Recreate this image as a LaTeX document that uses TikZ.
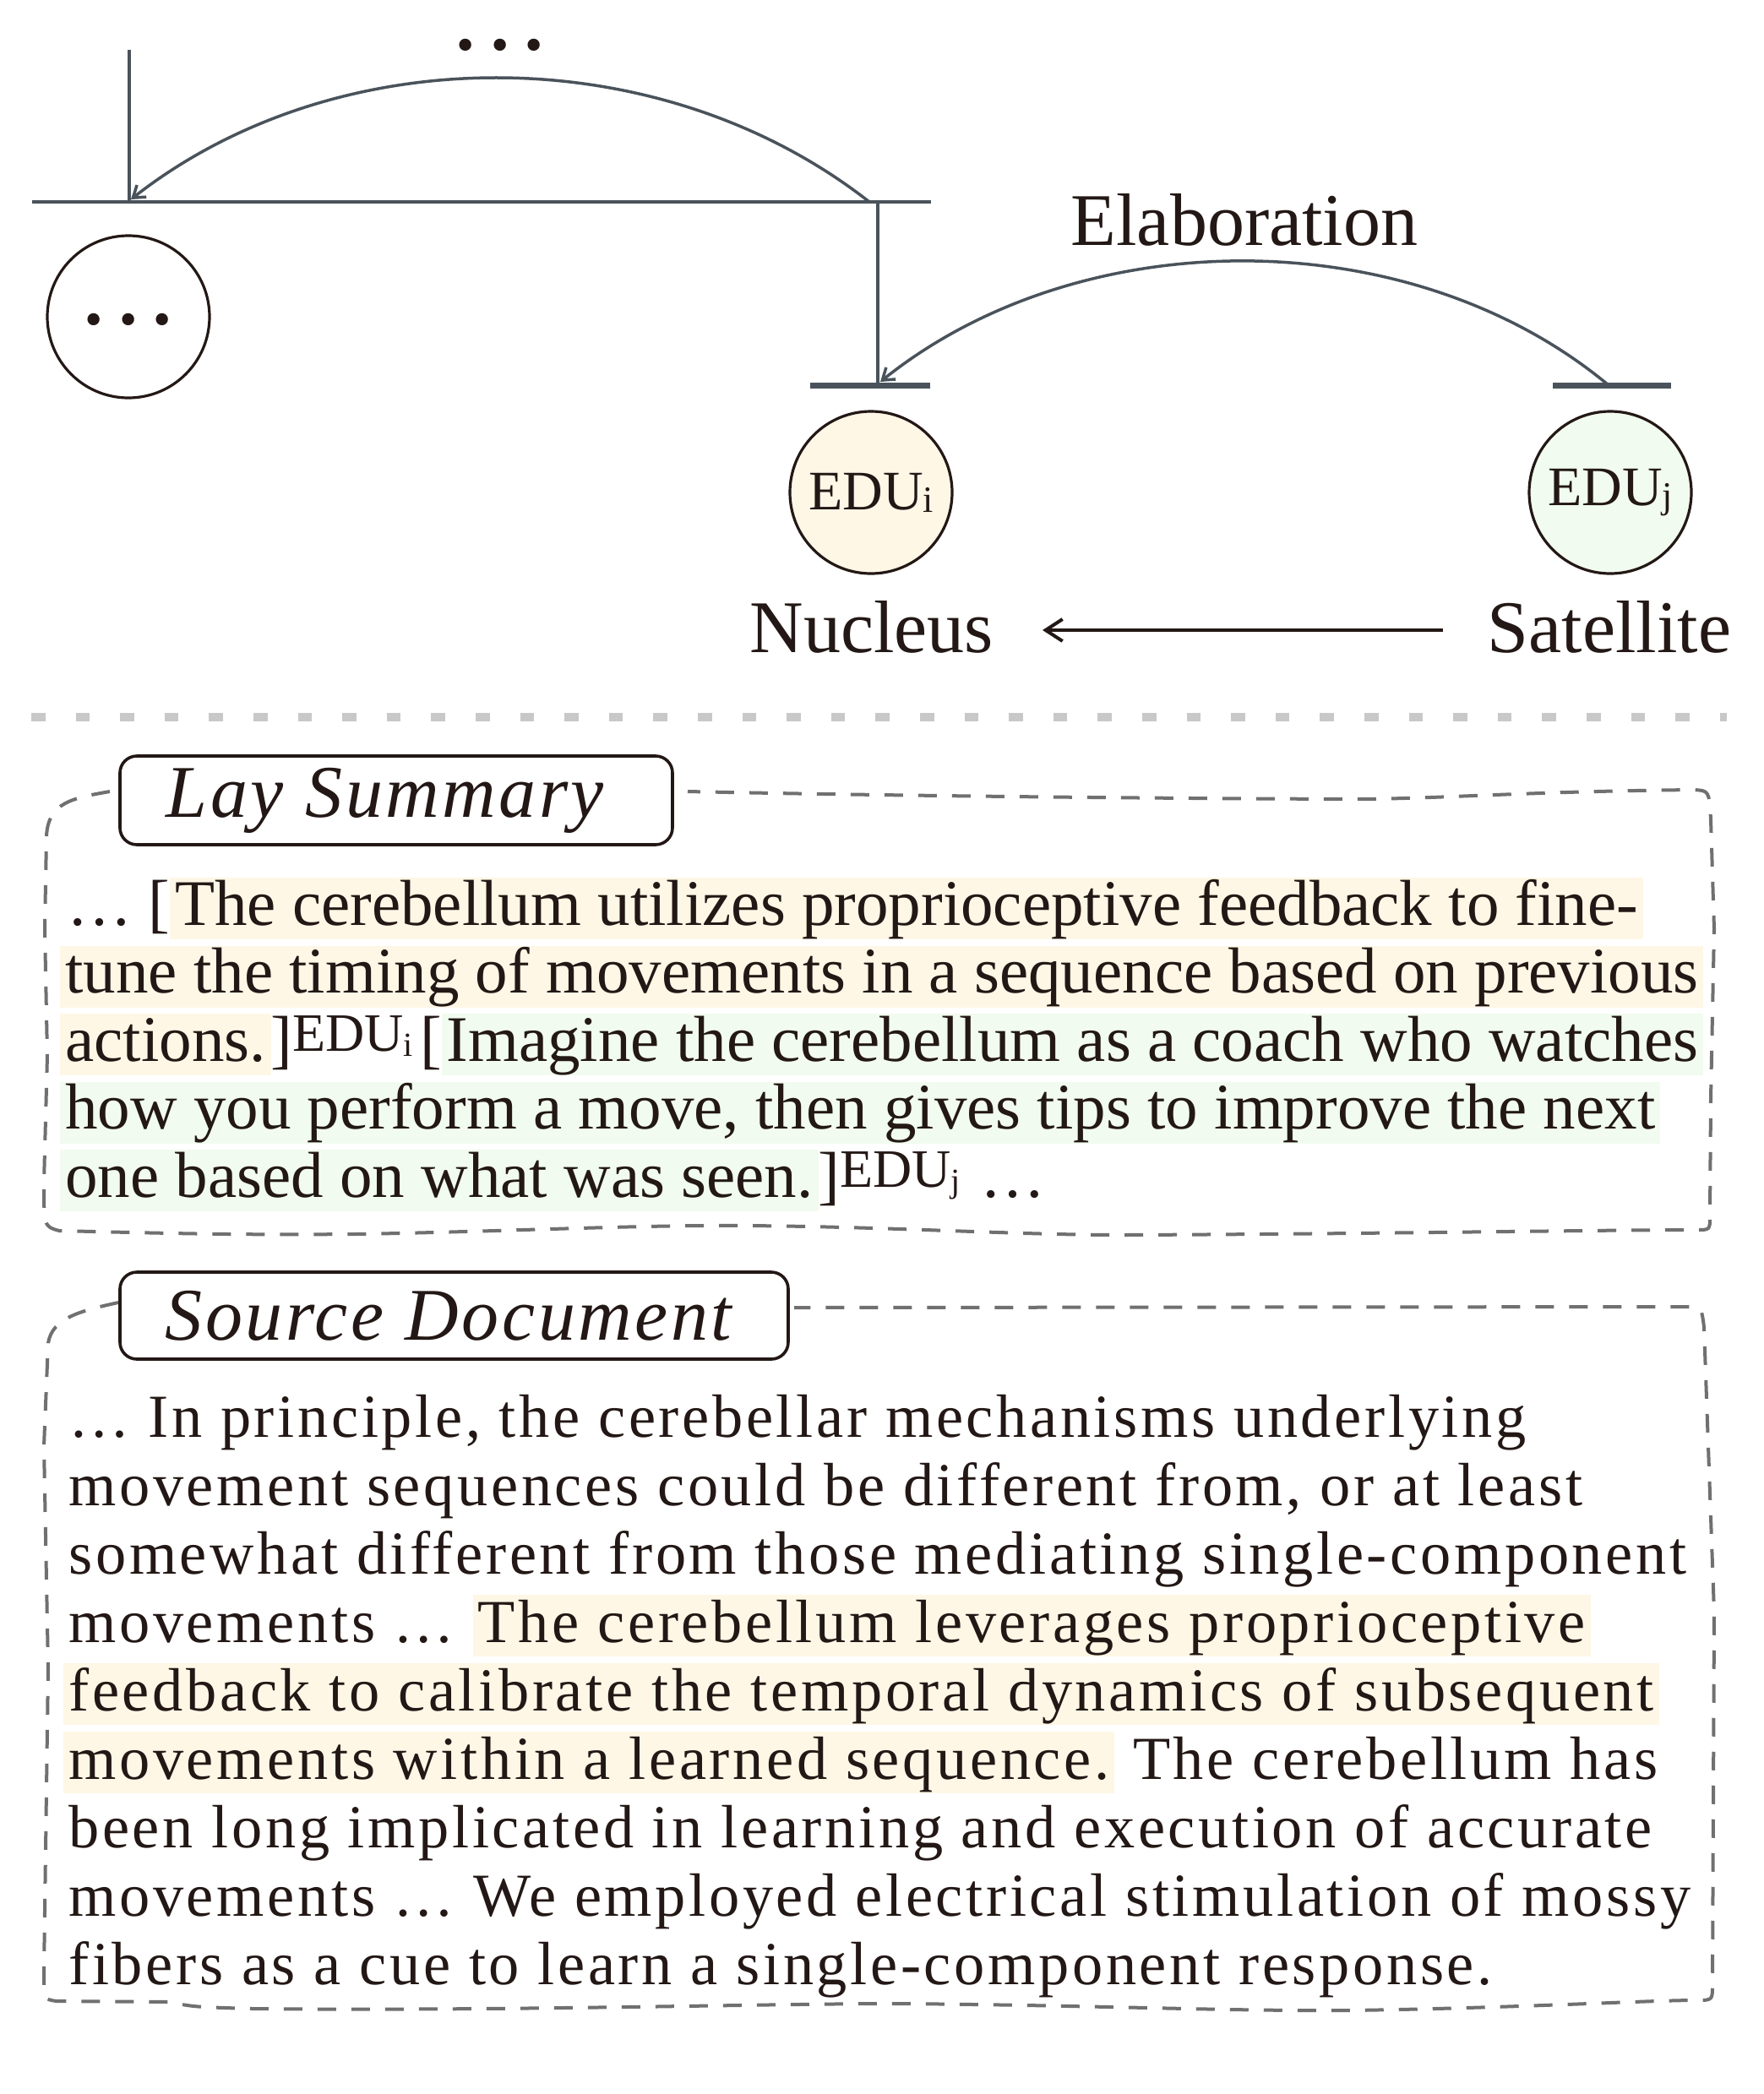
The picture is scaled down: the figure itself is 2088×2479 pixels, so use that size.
\documentclass[tikz,border=0pt]{standalone}
\usepackage{fontspec}
\setmainfont{Liberation Serif}
\newfontfamily\srcfont[LetterSpace=5.0]{Liberation Serif}
\newfontfamily\labfont[LetterSpace=4.0]{Liberation Serif}
\usetikzlibrary{arrows.meta}
\definecolor{txt}{HTML}{231815}
\definecolor{lnk}{HTML}{4A535B}
\definecolor{hly}{HTML}{FEF7E6}
\definecolor{hlg}{HTML}{F1FBEF}
\definecolor{sepc}{HTML}{C8C8C8}
\definecolor{dsh}{HTML}{707070}
\newcommand\hlbox[2]{{\setlength{\fboxsep}{3pt}\colorbox{#1}{\rule[-5.5pt]{0pt}{30.5pt}\smash{#2}}}}
\newcommand\edusup[1]{\raisebox{6pt}{\fontsize{32}{32}\selectfont EDU\raisebox{-3pt}{\fontsize{20}{20}\selectfont #1}}\kern4pt}
\newcommand\edusub[1]{EDU\raisebox{-1.5pt}{\fontsize{22}{22}\selectfont #1}}
\newcommand\threedots{{\bfseries\textperiodcentered\kern5.5pt\textperiodcentered\kern5.5pt\textperiodcentered}}
\tikzset{
  hbar/.style={draw=lnk, line width=2.2pt},
  ebar/.style={draw=lnk, line width=3.5pt},
  vline/.style={draw=lnk, line width=1.7pt},
  arcline/.style={draw=lnk, line width=1.75pt, -{Straight Barb[length=6.5pt,width=9pt]}},
  relarrow/.style={draw=txt, line width=2pt, -{Straight Barb[length=10pt,width=13pt]}},
  edunode/.style={circle, draw=txt, line width=1.6pt, minimum size=96pt, inner sep=0pt, text=txt, font=\fontsize{33}{36}\selectfont},
  dotsnode/.style={inner sep=0pt, text=txt, font=\fontsize{44}{44}\selectfont},
  lbl/.style={inner sep=0pt, text=txt, font=\fontsize{44}{48}\selectfont},
  sepline/.style={draw=sepc, line width=5pt, dash pattern=on 8.3pt off 18pt},
  labbox/.style={draw=txt, line width=1.8pt, rounded corners=10pt, inner sep=0pt, text=txt, font=\labfont\itshape\fontsize{44}{48}\selectfont},
  outline/.style={draw=dsh, line width=2pt, dash pattern=on 11pt off 9pt},
  layline/.style={anchor=base west, inner sep=0pt, text=txt, font=\fontsize{38.5}{40}\selectfont},
  srcline/.style={anchor=base west, inner sep=0pt, text=txt, font=\srcfont\fontsize{36.2}{40}\selectfont},
}
\begin{document}
\begin{tikzpicture}[x=0.5pt,y=-0.5pt]
\useasboundingbox (0,0) rectangle (2088,2479);

% ---------- tree ----------
\coordinate (tl) at (38,239); \coordinate (tr) at (1102,239);
\coordinate (v1t) at (153,59); \coordinate (v1b) at (153,239);
\coordinate (v2t) at (1039,239); \coordinate (v2b) at (1039,456);
\coordinate (bi1) at (959,456); \coordinate (bi2) at (1101,456);
\coordinate (bj1) at (1838,456); \coordinate (bj2) at (1978,456);
\coordinate (a1s) at (1029,239); \coordinate (a1e) at (155,236);
\coordinate (a2s) at (1904,456); \coordinate (a2e) at (1042,452);

\draw[hbar] (tl) -- (tr);
\draw[vline] (v1t) -- (v1b);
\draw[vline] (v2t) -- (v2b);
\draw[ebar] (bi1) -- (bi2);
\draw[ebar] (bj1) -- (bj2);
\draw[arcline] (a1s) .. controls (780,44) and (400,44) .. (a1e);
\draw[arcline] (a2s) .. controls (1670,261) and (1280,261) .. (a2e);

\node[dotsnode] (topdots) at (592,64) {\threedots};
\node[edunode] (dd) at (152,375) {};
\node[dotsnode] (dddots) at ([yshift=-7pt]dd.center) {\threedots};
\node[edunode, fill=hly] (ei) at (1031,583) {\edusub{i}};
\node[edunode, fill=hlg] (ej) at (1906,583) {\edusub{j}};

\node[lbl, anchor=base] (elab) at (1473,290) {Elaboration};
\node[lbl, anchor=base] (nuc) at (1032,772) {Nucleus};
\node[lbl, anchor=base] (sat) at (1905,772) {Satellite};
\coordinate (r1) at (1708,746); \coordinate (r2) at (1234,746);
\draw[relarrow] (r1) -- (r2);

% ---------- separator ----------
\coordinate (s1) at (37,849); \coordinate (s2) at (2044,849);
\draw[sepline] (s1) -- (s2);

% ---------- lay summary ----------
\draw[outline] (130,937) .. controls (85,945) and (57,950) .. (55,990) -- (53,1100) -- (56,1250) -- (52,1400)
  .. controls (52,1452) .. (70,1457)
  .. controls (230,1461) and (300,1462) .. (420,1461)
  .. controls (600,1458) and (750,1450) .. (880,1451)
  .. controls (1050,1452) and (1200,1462) .. (1330,1462)
  .. controls (1600,1461) and (1900,1456) .. (2008,1456)
  .. controls (2024,1456) .. (2024,1440) -- (2025,1300) -- (2029,1100) -- (2025,970)
  .. controls (2023,936) .. (2005,935)
  .. controls (1800,937) and (1700,946) .. (1600,946)
  .. controls (1300,945) and (1000,941) .. (814,937);
\node[labbox, minimum width=327pt, minimum height=52.5pt] (lay) at (469,947.5) {Lay Summary\hspace*{13pt}};

\node[layline] (l1) at (79,1095) {\dots\ [\hlbox{hly}{The cerebellum utilizes proprioceptive feedback to fine-}};
\node[layline] (l2) at (77,1175.5) {\kern-3pt\hlbox{hly}{tune the timing of movements in a sequence based on previous}};
\node[layline] (l3) at (77,1256) {\kern-3pt\hlbox{hly}{actions.}]\edusup{i}[\hlbox{hlg}{Imagine the cerebellum as a coach who watches}};
\node[layline] (l4) at (77,1336.5) {\kern-3pt\hlbox{hlg}{how you perform a move, then gives tips to improve the next}};
\node[layline] (l5) at (77,1417) {\kern-3pt\hlbox{hlg}{one based on what was seen.}]\edusup{j}\hspace{8pt}\dots};

% ---------- source document ----------
\draw[outline] (140,1542) .. controls (95,1552) and (62,1560) .. (57,1590) -- (52,1712) -- (57,1975) -- (52,2336)
  .. controls (52,2367) .. (67,2369) -- (200,2370)
  .. controls (230,2376) .. (300,2378)
  .. controls (600,2381) and (900,2372) .. (1065,2372)
  .. controls (1300,2374) and (1450,2381) .. (1600,2380)
  .. controls (1800,2377) and (1950,2368) .. (2008,2368)
  .. controls (2027,2368) .. (2027,2350) -- (2029,1909) -- (2017,1571)
  .. controls (2014,1548) .. (2000,1547) -- (940,1548);
\node[labbox, minimum width=395.5pt, minimum height=51.5pt] (src) at (537.5,1557.5) {Source Document\hspace*{6.5pt}};

\node[srcline] (d1) at (81,1701) {\dots\ In principle, the cerebellar mechanisms underlying};
\node[srcline] (d2) at (81,1782) {movement sequences could be different from, or at least};
\node[srcline] (d3) at (81,1863) {somewhat different from those mediating single-component};
\node[srcline] (d4) at (81,1944) {movements \dots\ \hlbox{hly}{The cerebellum leverages proprioceptive}};
\node[srcline] (d5) at (81,2025) {\kern-3pt\hlbox{hly}{feedback to calibrate the temporal dynamics of subsequent}};
\node[srcline] (d6) at (81,2106) {\kern-3pt\hlbox{hly}{movements within a learned sequence.} The cerebellum has};
\node[srcline] (d7) at (81,2187) {been long implicated in learning and execution of accurate};
\node[srcline] (d8) at (81,2268) {movements \dots\ We employed electrical stimulation of mossy};
\node[srcline] (d9) at (81,2349) {fibers as a cue to learn a single-component response.};
\end{tikzpicture}
\end{document}
